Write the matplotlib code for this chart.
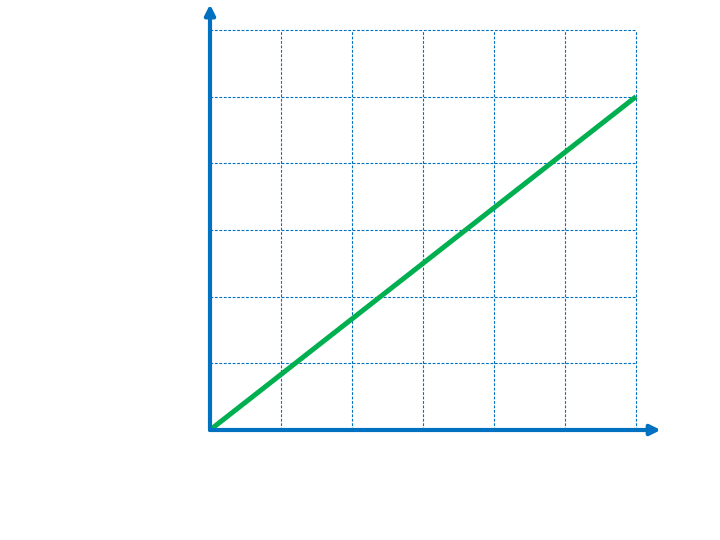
import matplotlib
matplotlib.use("Agg")
import matplotlib.pyplot as plt

# data
x_values = [0, 6]
y_values = [0, 5]
x_ticks = [0, 1, 2, 3, 4, 5, 6]
y_ticks = [0, 1, 2, 3, 4, 5, 6]

blue = "#0070C0"
green = "#00B050"

fig = plt.figure(figsize=(7.2, 5.4), dpi=100)
ax = fig.add_axes([210 / 720, 110 / 540, 426 / 720, 400 / 540])

ax.set_xlim(0, 6)
ax.set_ylim(0, 6)
ax.set_xticks(x_ticks)
ax.set_yticks(y_ticks)
ax.tick_params(length=0, labelbottom=False, labelleft=False)
for s in ax.spines.values():
    s.set_visible(False)
ax.grid(True, color=blue, linestyle=(0, (2.5, 1.5)), linewidth=0.8)
for gl in ax.get_xgridlines() + ax.get_ygridlines():
    gl.set_clip_on(False)

ax.plot(x_values, y_values, color=green, linewidth=3.6, solid_capstyle="butt",
        zorder=3, clip_on=False)

# axis arrows
for tip in [(1.058, 0), (0, 1.064)]:
    ax.annotate("", xy=tip, xytext=(0, 0), xycoords="axes fraction",
                arrowprops=dict(arrowstyle="-|>,head_length=0.6,head_width=0.3",
                                color=blue, lw=3, shrinkA=0, shrinkB=0),
                annotation_clip=False, zorder=4)

fig.savefig("out.png", dpi=100)
